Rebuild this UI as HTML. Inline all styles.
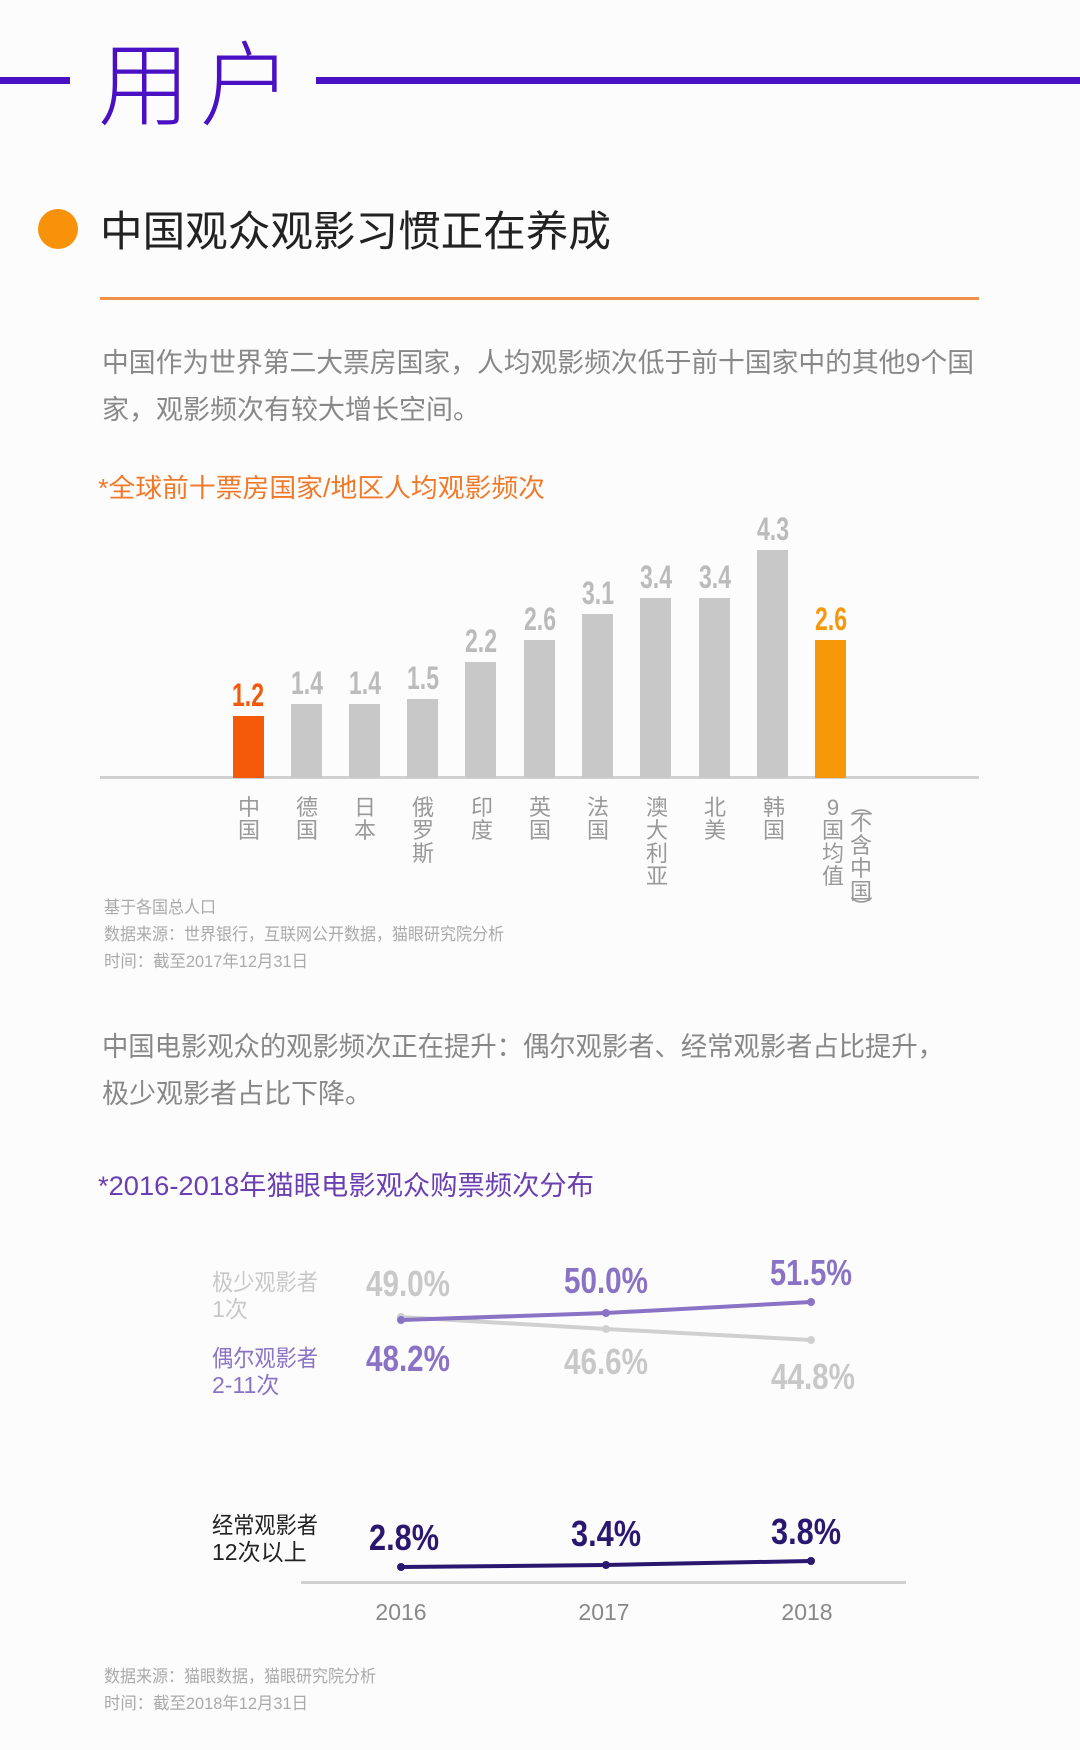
<!DOCTYPE html>
<html><head><meta charset="utf-8"><style>
html,body{margin:0;padding:0;background:#fdfcfd;}
svg{display:block;}
text{font-family:"Liberation Sans","Noto Sans CJK SC",sans-serif;}
</style></head><body>
<svg width="1080" height="1750" viewBox="0 0 1080 1750" xmlns="http://www.w3.org/2000/svg">
<rect width="1080" height="1750" fill="#fdfcfd"/>
<!-- header -->
<rect x="0" y="77" width="70" height="7" fill="#4a10c4"/>
<rect x="316" y="77" width="764" height="7" fill="#4a10c4"/>
<text x="98" y="118" font-size="92" fill="#4a10c4" font-weight="300" letter-spacing="10">用户</text>
<circle cx="58" cy="229" r="20" fill="#f7920a"/>
<text x="100" y="246" font-size="42" fill="#222" textLength="511" lengthAdjust="spacingAndGlyphs">中国观众观影习惯正在养成</text>
<rect x="100" y="297" width="879" height="3" fill="#f0914a"/>
<text font-size="27" fill="#888"><tspan x="102" y="372" textLength="872" lengthAdjust="spacingAndGlyphs">中国作为世界第二大票房国家，人均观影频次低于前十国家中的其他9个国</tspan><tspan x="102" y="419">家，观影频次有较大增长空间。</tspan></text>
<text x="98" y="497" font-size="26" fill="#f07a2a" textLength="447" lengthAdjust="spacingAndGlyphs">*全球前十票房国家/地区人均观影频次</text>
<!-- bars -->
<rect x="100" y="776" width="879" height="3" fill="#d0d0d0"/>
<g>
<rect x="233" y="716" width="31" height="62" fill="#f55a0a"/>
<rect x="291" y="704" width="31" height="74" fill="#c8c8c8"/>
<rect x="349" y="704" width="31" height="74" fill="#c8c8c8"/>
<rect x="407" y="699" width="31" height="79" fill="#c8c8c8"/>
<rect x="465" y="662" width="31" height="116" fill="#c8c8c8"/>
<rect x="524" y="640" width="31" height="138" fill="#c8c8c8"/>
<rect x="582" y="614" width="31" height="164" fill="#c8c8c8"/>
<rect x="640" y="598" width="31" height="180" fill="#c8c8c8"/>
<rect x="699" y="598" width="31" height="180" fill="#c8c8c8"/>
<rect x="757" y="550" width="31" height="228" fill="#c8c8c8"/>
<rect x="815" y="640" width="31" height="138" fill="#f7980a"/>
</g>
<g font-size="32" font-weight="bold" text-anchor="middle">
<text x="248" y="706" fill="#f05a0a" textLength="32" lengthAdjust="spacingAndGlyphs">1.2</text>
<text x="307" y="694" fill="#bbb" textLength="32" lengthAdjust="spacingAndGlyphs">1.4</text>
<text x="365" y="694" fill="#bbb" textLength="32" lengthAdjust="spacingAndGlyphs">1.4</text>
<text x="423" y="689" fill="#bbb" textLength="32" lengthAdjust="spacingAndGlyphs">1.5</text>
<text x="481" y="652" fill="#bbb" textLength="32" lengthAdjust="spacingAndGlyphs">2.2</text>
<text x="540" y="630" fill="#bbb" textLength="32" lengthAdjust="spacingAndGlyphs">2.6</text>
<text x="598" y="604" fill="#bbb" textLength="32" lengthAdjust="spacingAndGlyphs">3.1</text>
<text x="656" y="588" fill="#bbb" textLength="32" lengthAdjust="spacingAndGlyphs">3.4</text>
<text x="715" y="588" fill="#bbb" textLength="32" lengthAdjust="spacingAndGlyphs">3.4</text>
<text x="773" y="540" fill="#bbb" textLength="32" lengthAdjust="spacingAndGlyphs">4.3</text>
<text x="831" y="630" fill="#f7980a" textLength="32" lengthAdjust="spacingAndGlyphs">2.6</text>
</g>
<g font-size="22" fill="#999" text-anchor="middle">
<text x="249" y="815">中</text><text x="249" y="838">国</text>
<text x="307" y="815">德</text><text x="307" y="838">国</text>
<text x="365" y="815">日</text><text x="365" y="838">本</text>
<text x="423" y="815">俄</text><text x="423" y="838">罗</text><text x="423" y="861">斯</text>
<text x="482" y="815">印</text><text x="482" y="838">度</text>
<text x="540" y="815">英</text><text x="540" y="838">国</text>
<text x="598" y="815">法</text><text x="598" y="838">国</text>
<text x="657" y="815">澳</text><text x="657" y="838">大</text><text x="657" y="861">利</text><text x="657" y="884">亚</text>
<text x="715" y="815">北</text><text x="715" y="838">美</text>
<text x="774" y="815">韩</text><text x="774" y="838">国</text>
<text x="833" y="815">9</text><text x="833" y="838">国</text><text x="833" y="861">均</text><text x="833" y="884">值</text>
<text x="860" y="812" transform="rotate(90 860 805)">（</text>
<text x="861" y="830">不</text><text x="861" y="853">含</text><text x="861" y="876">中</text><text x="861" y="899">国</text>
<text x="860" y="914" transform="rotate(90 860 907)">）</text>
</g>
<g font-size="17" fill="#aaa">
<text x="104" y="913" textLength="112" lengthAdjust="spacingAndGlyphs">基于各国总人口</text>
<text x="104" y="940" textLength="400" lengthAdjust="spacingAndGlyphs">数据来源：世界银行，互联网公开数据，猫眼研究院分析</text>
<text x="104" y="967" textLength="204" lengthAdjust="spacingAndGlyphs">时间：截至2017年12月31日</text>
</g>
<!-- paragraph 2 -->
<text font-size="27" fill="#888"><tspan x="102" y="1056" textLength="842" lengthAdjust="spacingAndGlyphs">中国电影观众的观影频次正在提升：偶尔观影者、经常观影者占比提升，</tspan><tspan x="102" y="1103">极少观影者占比下降。</tspan></text>
<text x="98" y="1195" font-size="27" fill="#6a3fb2" textLength="496" lengthAdjust="spacingAndGlyphs">*2016-2018年猫眼电影观众购票频次分布</text>
<!-- line chart -->
<g font-size="23">
<text x="212" y="1290" fill="#c8c8c8" textLength="106" lengthAdjust="spacingAndGlyphs">极少观影者</text>
<text x="212" y="1317" fill="#c8c8c8">1次</text>
<text x="212" y="1366" fill="#8a73c4" textLength="106" lengthAdjust="spacingAndGlyphs">偶尔观影者</text>
<text x="212" y="1393" fill="#8a73c4">2-11次</text>
<text x="212" y="1533" fill="#222" textLength="106" lengthAdjust="spacingAndGlyphs">经常观影者</text>
<text x="212" y="1560" fill="#222">12次以上</text>
</g>
<polyline points="401,1317 606,1329 811,1340" fill="none" stroke="#d0d0d0" stroke-width="4"/>
<polyline points="401,1320 606,1313 811,1302" fill="none" stroke="#8a73c4" stroke-width="4"/>
<g fill="#d0d0d0"><circle cx="401" cy="1317" r="4"/><circle cx="606" cy="1329" r="4"/><circle cx="811" cy="1340" r="4"/></g>
<g fill="#8a73c4"><circle cx="401" cy="1320" r="4"/><circle cx="606" cy="1313" r="4"/><circle cx="811" cy="1302" r="4"/></g>
<polyline points="401,1567 606,1565 811,1561" fill="none" stroke="#2a1870" stroke-width="4"/>
<g fill="#2a1870"><circle cx="401" cy="1567" r="4"/><circle cx="606" cy="1565" r="4"/><circle cx="811" cy="1561" r="4"/></g>
<g font-size="36" font-weight="bold" text-anchor="middle">
<text x="408" y="1296" fill="#c8c8c8" textLength="84" lengthAdjust="spacingAndGlyphs">49.0%</text>
<text x="606" y="1293" fill="#8a73c4" textLength="84" lengthAdjust="spacingAndGlyphs">50.0%</text>
<text x="811" y="1285" fill="#8a73c4" textLength="82" lengthAdjust="spacingAndGlyphs">51.5%</text>
<text x="408" y="1371" fill="#8a73c4" textLength="84" lengthAdjust="spacingAndGlyphs">48.2%</text>
<text x="606" y="1374" fill="#c8c8c8" textLength="84" lengthAdjust="spacingAndGlyphs">46.6%</text>
<text x="813" y="1389" fill="#c8c8c8" textLength="84" lengthAdjust="spacingAndGlyphs">44.8%</text>
<text x="404" y="1550" fill="#2a1870" textLength="70" lengthAdjust="spacingAndGlyphs">2.8%</text>
<text x="606" y="1546" fill="#2a1870" textLength="70" lengthAdjust="spacingAndGlyphs">3.4%</text>
<text x="806" y="1544" fill="#2a1870" textLength="70" lengthAdjust="spacingAndGlyphs">3.8%</text>
</g>
<rect x="301" y="1581" width="605" height="3" fill="#d0d0d0"/>
<g font-size="23" fill="#888" text-anchor="middle">
<text x="401" y="1620">2016</text><text x="604" y="1620">2017</text><text x="807" y="1620">2018</text>
</g>
<g font-size="17" fill="#aaa">
<text x="104" y="1682" textLength="272" lengthAdjust="spacingAndGlyphs">数据来源：猫眼数据，猫眼研究院分析</text>
<text x="104" y="1709" textLength="204" lengthAdjust="spacingAndGlyphs">时间：截至2018年12月31日</text>
</g>
</svg>
</body></html>
